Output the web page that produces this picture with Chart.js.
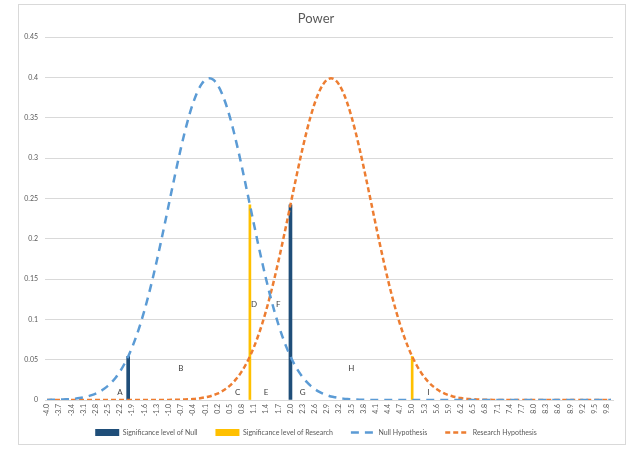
<!DOCTYPE html>
<html>
<head>
<meta charset="utf-8">
<script src="https://cdn.jsdelivr.net/npm/chart.js@4"></script>
<style>
  html, body { margin: 0; padding: 0; background: #fff; }
  #frame {
    position: absolute; left: 18px; top: 4px;
    width: 606px; height: 439px;
    border: 1px solid #D9D9D9;
  }
  #powerChart { display: block; }
</style>
</head>
<body>
<div id="frame"><canvas id="powerChart" width="606" height="439"></canvas></div>
<script>
// --- DATA ---
const categories = [
  '-4.0','-3.9','-3.8','-3.7','-3.6','-3.5','-3.4','-3.3','-3.2','-3.1',
  '-3.0','-2.9','-2.8','-2.7','-2.6','-2.5','-2.4','-2.3','-2.2','-2.1',
  '-2.0','-1.9','-1.8','-1.7','-1.6','-1.5','-1.4','-1.3','-1.2','-1.1',
  '-1.0','-0.9','-0.8','-0.7','-0.6','-0.5','-0.4','-0.3','-0.2','-0.1',
  '0.0','0.1','0.2','0.3','0.4','0.5','0.6','0.7','0.8','0.9',
  '1.0','1.1','1.2','1.3','1.4','1.5','1.6','1.7','1.8','1.9',
  '2.0','2.1','2.2','2.3','2.4','2.5','2.6','2.7','2.8','2.9',
  '3.0','3.1','3.2','3.3','3.4','3.5','3.6','3.7','3.8','3.9',
  '4.0','4.1','4.2','4.3','4.4','4.5','4.6','4.7','4.8','4.9',
  '5.0','5.1','5.2','5.3','5.4','5.5','5.6','5.7','5.8','5.9',
  '6.0','6.1','6.2','6.3','6.4','6.5','6.6','6.7','6.8','6.9',
  '7.0','7.1','7.2','7.3','7.4','7.5','7.6','7.7','7.8','7.9',
  '8.0','8.1','8.2','8.3','8.4','8.5','8.6','8.7','8.8','8.9',
  '9.0','9.1','9.2','9.3','9.4','9.5','9.6','9.7','9.8','9.9'
];

const nullHypothesis = [
  0.0001,0.0002,0.0003,0.0004,0.0006,0.0009,0.0012,0.0017,0.0024,0.0033,
  0.0044,0.0060,0.0079,0.0104,0.0136,0.0175,0.0224,0.0283,0.0355,0.0440,
  0.0540,0.0656,0.0790,0.0940,0.1109,0.1295,0.1497,0.1714,0.1942,0.2179,
  0.2420,0.2661,0.2897,0.3123,0.3332,0.3521,0.3683,0.3814,0.3910,0.3970,
  0.3989,0.3970,0.3910,0.3814,0.3683,0.3521,0.3332,0.3123,0.2897,0.2661,
  0.2420,0.2179,0.1942,0.1714,0.1497,0.1295,0.1109,0.0940,0.0790,0.0656,
  0.0540,0.0440,0.0355,0.0283,0.0224,0.0175,0.0136,0.0104,0.0079,0.0060,
  0.0044,0.0033,0.0024,0.0017,0.0012,0.0009,0.0006,0.0004,0.0003,0.0002,
  0.0001,0.0001,0.0001,0,0,0,0,0,0,0,
  0,0,0,0,0,0,0,0,0,0,
  0,0,0,0,0,0,0,0,0,0,
  0,0,0,0,0,0,0,0,0,0,
  0,0,0,0,0,0,0,0,0,0,
  0,0,0,0,0,0,0,0,0,0
];

const researchHypothesis = [
  0,0,0,0,0,0,0,0,0,0,
  0,0,0,0,0,0,0,0,0,0,
  0,0,0,0,0,0,0,0,0.0001,0.0001,
  0.0001,0.0002,0.0003,0.0004,0.0006,0.0009,0.0012,0.0017,0.0024,0.0033,
  0.0044,0.0060,0.0079,0.0104,0.0136,0.0175,0.0224,0.0283,0.0355,0.0440,
  0.0540,0.0656,0.0790,0.0940,0.1109,0.1295,0.1497,0.1714,0.1942,0.2179,
  0.2420,0.2661,0.2897,0.3123,0.3332,0.3521,0.3683,0.3814,0.3910,0.3970,
  0.3989,0.3970,0.3910,0.3814,0.3683,0.3521,0.3332,0.3123,0.2897,0.2661,
  0.2420,0.2179,0.1942,0.1714,0.1497,0.1295,0.1109,0.0940,0.0790,0.0656,
  0.0540,0.0440,0.0355,0.0283,0.0224,0.0175,0.0136,0.0104,0.0079,0.0060,
  0.0044,0.0033,0.0024,0.0017,0.0012,0.0009,0.0006,0.0004,0.0003,0.0002,
  0.0001,0.0001,0.0001,0,0,0,0,0,0,0,
  0,0,0,0,0,0,0,0,0,0,
  0,0,0,0,0,0,0,0,0,0
];

// significance markers (category, height)
const nullSigX = ['-2.0', '2.0'];
const nullSigY = [0.054, 0.242];
const researchSigX = ['1.0', '5.0'];
const researchSigY = [0.242, 0.054];

// region letters placed inside the plot
const regionLetters = ['A', 'B', 'C', 'D', 'E', 'F', 'G', 'H', 'I'];
const regionX = ['-2.2', '-0.7', '0.7', '1.1', '1.4', '1.7', '2.3', '3.5', '5.4'];
const regionY = [0.01, 0.039, 0.01, 0.119, 0.01, 0.119, 0.01, 0.039, 0.01];

const yTicks = [0, 0.05, 0.1, 0.15, 0.2, 0.25, 0.3, 0.35, 0.4, 0.45];

// --- HELPERS ---
const toPoints = (xs, ys) => xs.map((x, i) => ({ x: x, y: ys[i] }));

const FONT = "Lato, 'Liberation Sans', sans-serif";
const TEXT_GRAY = '#595959';

const regionLabelPlugin = {
    id: 'regionLabels',
    afterDatasetsDraw(chart) {
        const { ctx, scales } = chart;
        ctx.save();
        ctx.font = `8px ${FONT}`;
        ctx.fillStyle = '#404040';
        ctx.textAlign = 'center';
        ctx.textBaseline = 'middle';
        regionLetters.forEach((letter, i) => {
            const px = scales.x.getPixelForValue(categories.indexOf(regionX[i]));
            const py = scales.y.getPixelForValue(regionY[i]);
            ctx.fillText(letter, px, py);
        });
        ctx.restore();
    }
};

// legend keeps wide item gaps but sits closer to the axis labels
const legendShiftPlugin = {
    id: 'legendShift',
    afterLayout(chart) {
        chart.legend.top -= 9;
    }
};

// --- CHART ---
new Chart(document.getElementById('powerChart'), {
    data: {
        labels: categories,
        datasets: [
            {
                type: 'bar',
                label: 'Significance level of Null',
                data: toPoints(nullSigX, nullSigY),
                backgroundColor: '#1F4E79',
                borderWidth: 0,
                barThickness: 3,
                grouped: false,
                pointStyle: 'rect',
                order: 2
            },
            {
                type: 'bar',
                label: 'Significance level of Research',
                data: toPoints(researchSigX, researchSigY),
                backgroundColor: '#FFC000',
                borderWidth: 0,
                barThickness: 2,
                grouped: false,
                pointStyle: 'rect',
                order: 2
            },
            {
                type: 'line',
                label: 'Null Hypothesis',
                data: nullHypothesis,
                borderColor: '#5B9BD5',
                backgroundColor: '#5B9BD5',
                borderWidth: 2.5,
                borderDash: [8, 6],
                pointRadius: 0,
                pointStyle: 'line',
                tension: 0.4,
                cubicInterpolationMode: 'monotone',
                fill: false,
                order: 1
            },
            {
                type: 'line',
                label: 'Research Hypothesis',
                data: researchHypothesis,
                borderColor: '#ED7D31',
                backgroundColor: '#ED7D31',
                borderWidth: 2.5,
                borderDash: [5, 3],
                pointRadius: 0,
                pointStyle: 'line',
                tension: 0.4,
                cubicInterpolationMode: 'monotone',
                fill: false,
                order: 1
            }
        ]
    },
    options: {
        responsive: false,
        animation: false,
        layout: { padding: { left: 0, right: 12, top: 0, bottom: 0 } },
        plugins: {
            title: {
                display: true,
                text: 'Power',
                color: TEXT_GRAY,
                font: { family: FONT, size: 13, weight: 'normal' },
                padding: { top: 6, bottom: 10.5 }
            },
            legend: {
                position: 'bottom',
                maxHeight: 24,
                labels: {
                    usePointStyle: true,
                    pointStyleWidth: 24,
                    boxHeight: 7,
                    color: TEXT_GRAY,
                    font: { family: FONT, size: 7 },
                    padding: 18,
                    sort: (a, b) => a.datasetIndex - b.datasetIndex,
                    generateLabels: (chart) => {
                        const items = Chart.defaults.plugins.legend.labels.generateLabels(chart);
                        items.forEach(item => {
                            const ds = chart.data.datasets[item.datasetIndex];
                            if (ds.type === 'line') {
                                item.lineDash = ds.borderDash;
                                item.lineWidth = ds.borderWidth;
                            }
                        });
                        return items;
                    }
                }
            },
            tooltip: { enabled: false }
        },
        scales: {
            x: {
                type: 'category',
                offset: true,
                grid: { display: false, drawTicks: false },
                border: { display: true, color: '#D9D9D9' },
                afterFit: (scale) => { scale.height = 20; },
                ticks: {
                    autoSkip: false,
                    maxRotation: 90,
                    minRotation: 90,
                    padding: 4,
                    color: TEXT_GRAY,
                    font: { family: FONT, size: 7 },
                    callback: (value, index) => (index % 3 === 0 ? categories[index] : null)
                }
            },
            y: {
                min: 0,
                max: 0.45,
                afterBuildTicks: (scale) => { scale.ticks = yTicks.map(v => ({ value: v })); },
                afterFit: (scale) => { scale.width = 26; },
                grid: { color: '#D9D9D9', drawTicks: false },
                border: { display: false },
                ticks: {
                    padding: 7,
                    color: TEXT_GRAY,
                    font: { family: FONT, size: 7 },
                    callback: (value) => String(value)
                }
            }
        }
    },
    plugins: [regionLabelPlugin, legendShiftPlugin]
});
</script>
</body>
</html>
